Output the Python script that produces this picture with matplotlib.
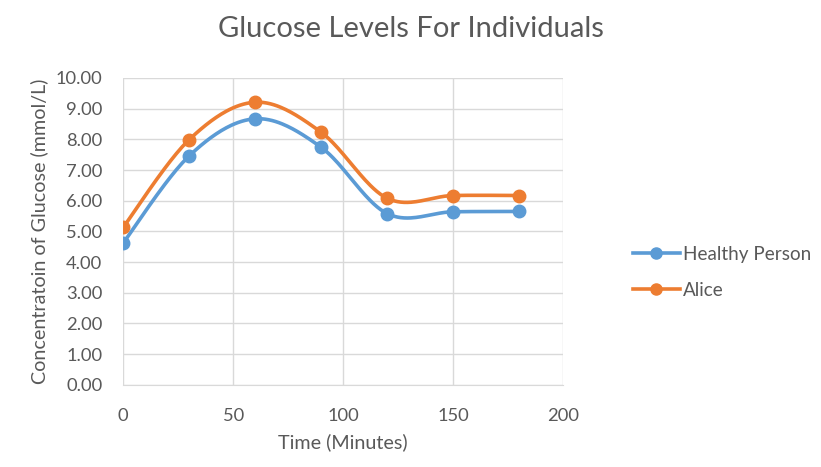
import matplotlib
matplotlib.use('Agg')
import matplotlib.pyplot as plt
import numpy as np

plt.rcParams['font.family'] = ['Lato', 'DejaVu Sans']

tiempo = [0, 30, 60, 90, 120, 150, 180]
healthy = [4.62, 7.46, 8.67, 7.74, 5.58, 5.64, 5.65]
alice = [5.13, 7.99, 9.21, 8.23, 6.08, 6.17, 6.17]
series_nomes = ['Healthy Person', 'Alice']
cores = ['#5B9BD5', '#ED7D31']
texto_cor = '#595959'
grade_cor = '#D9D9D9'


def suavizar(x, y, n=40):
    # curva estilo Excel (bezier com tangentes catmull-rom)
    x = np.asarray(x, float)
    y = np.asarray(y, float)
    pts = np.column_stack([x, y])
    saida = [pts[0]]
    for i in range(len(pts) - 1):
        p0 = pts[i - 1] if i > 0 else pts[i]
        p1 = pts[i]
        p2 = pts[i + 1]
        p3 = pts[i + 2] if i + 2 < len(pts) else pts[i + 1]
        c1 = p1 + (p2 - p0) / 6.0
        c2 = p2 - (p3 - p1) / 6.0
        t = np.linspace(0, 1, n)[1:, None]
        b = (1 - t) ** 3 * p1 + 3 * (1 - t) ** 2 * t * c1 + 3 * (1 - t) * t ** 2 * c2 + t ** 3 * p2
        saida.extend(b)
    saida = np.array(saida)
    return saida[:, 0], saida[:, 1]


fig = plt.figure(figsize=(8.21, 4.67), dpi=100)
ax = fig.add_axes([0.150, 0.176, 0.536, 0.657])

handles = []
for dados, nome, cor in zip([healthy, alice], series_nomes, cores):
    xs, ys = suavizar(tiempo, dados)
    ax.plot(xs, ys, color=cor, linewidth=2.6, solid_capstyle='round', zorder=3)
    ax.plot(tiempo, dados, linestyle='none', marker='o', markersize=9, color=cor, zorder=4)
    h, = ax.plot([], [], color=cor, linewidth=2.6, marker='o', markersize=8, label=nome)
    handles.append(h)

ax.set_xlim(0, 200)
ax.set_ylim(0, 10)
ax.set_xticks(np.arange(0, 201, 50))
ax.set_yticks(np.arange(0, 10.01, 1))
ax.set_yticklabels(['%.2f' % v for v in np.arange(0, 10.01, 1)])
ax.grid(True, color=grade_cor, linewidth=1)
ax.set_axisbelow(True)
for lado in ['top', 'right', 'left']:
    ax.spines[lado].set_visible(False)
ax.spines['bottom'].set_color(grade_cor)
ax.tick_params(axis='both', length=0, labelsize=13.2, colors=texto_cor)
ax.tick_params(axis='x', pad=17)
ax.tick_params(axis='y', pad=15)

ax.set_xlabel('Time (Minutes)', fontsize=14.2, color=texto_cor, labelpad=6)
ax.set_ylabel('Concentratoin of Glucose (mmol/L)', fontsize=14.2, color=texto_cor, labelpad=5)
fig.suptitle('Glucose Levels For Individuals', fontsize=21, color=texto_cor, y=0.965)

leg = fig.legend(handles=handles, loc='center left', bbox_to_anchor=(0.750, 0.417),
                 frameon=False, fontsize=13.6, handlelength=2.5, handletextpad=0.15,
                 labelspacing=1.0)
for t in leg.get_texts():
    t.set_color(texto_cor)

fig.savefig('out.png', dpi=100)
